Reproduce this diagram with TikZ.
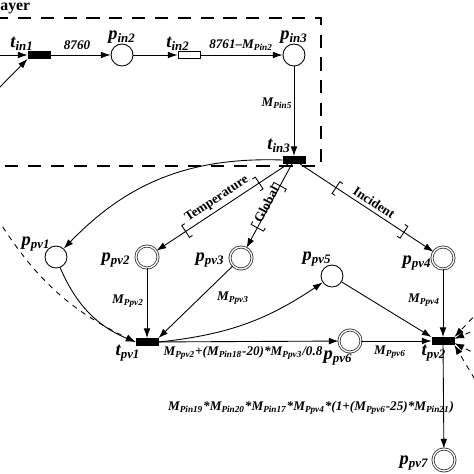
\documentclass[tikz,border=0pt]{standalone}
\usepackage{fontspec}
\setmainfont{Liberation Serif}
\usepackage{tikz}
\usetikzlibrary{arrows.meta,decorations.markings}
\newcommand{\sub}[2]{#1\textsubscript{#2}}
\tikzset{
  place/.style={circle, draw, line width=0.5pt, minimum size=0.44cm, inner sep=0pt},
  dplace/.style={place, double, double distance=0.7pt, draw=black!75},
  trans/.style={rectangle, draw, fill=black, line width=0.5pt, minimum width=0.44cm, minimum height=0.14cm, inner sep=0pt},
  wtrans/.style={trans, fill=white},
  arc/.style={line width=0.5pt, -{Latex[length=5.5pt,width=3.8pt]}},
  darc/.style={arc, dashed},
  lab/.style={font=\bfseries\itshape\fontsize{10.5}{12}\selectfont, inner sep=1pt},
  wlab/.style={font=\bfseries\itshape\fontsize{7.5}{9}\selectfont, inner sep=1pt},
  tlab/.style={font=\bfseries\fontsize{7.5}{9}\selectfont, inner sep=1pt},
  layerbox/.style={line width=1.1pt, dash pattern=on 7.5pt off 5.5pt},
  brk/.style 2 args={postaction={decorate, decoration={markings,
      mark=at position #1 with {\draw[-, line width=0.5pt] (2pt,-4pt)--(0,-4pt)--(0,4pt)--(2pt,4pt);},
      mark=at position #2 with {\draw[-, line width=0.5pt] (-2pt,-4pt)--(0,-4pt)--(0,4pt)--(-2pt,4pt);}}}},
}
\begin{document}
\begin{tikzpicture}[x=0.02cm, y=-0.02cm]
  \useasboundingbox (0,0) rectangle (474,474);

  % input layer box
  \draw[layerbox] (-5,18) -- (321,18) -- (321,166) -- (-5,166);
  \node[font=\bfseries\fontsize{9}{10}\selectfont, anchor=west, inner sep=0pt] (layer) at (0,8.5) {ayer};

  % input layer
  \coordinate (in1a) at (-5,55);
  \coordinate (in1b) at (-5,92);
  \node[trans] (tin1) at (39,55) {};
  \node[place] (pin2) at (122,55) {};
  \node[wtrans] (tin2) at (189,55) {};
  \node[place] (pin3) at (294,55) {};
  \node[trans] (tin3) at (294,160) {};

  % pv layer
  \node[place] (ppv1) at (56,257) {};
  \node[dplace] (ppv2) at (147,257) {};
  \node[dplace] (ppv3) at (241,258) {};
  \node[dplace] (ppv4) at (443,258) {};
  \node[place] (ppv5) at (332,276) {};
  \node[trans] (tpv1) at (147,342) {};
  \node[dplace] (ppv6) at (350,341) {};
  \node[trans] (tpv2) at (443,341) {};
  \node[dplace] (ppv7) at (444,460) {};
  \coordinate (dpv1) at (-3,218);
  \coordinate (ex1) at (480,310);
  \coordinate (ex2) at (480,328);
  \coordinate (ex3) at (480,356);
  \coordinate (ex4) at (480,388);

  % arcs
  \draw[arc] (in1a) -- (tin1);
  \draw[arc] (in1b) -- (tin1.south west);
  \draw[arc] (tin1) -- (pin2);
  \draw[arc] (pin2) -- (tin2);
  \draw[arc] (tin2) -- (pin3);
  \draw[arc] (pin3) -- (tin3);
  \draw[arc] (tin3.west) to[bend right=24] (ppv1);
  \draw[arc, brk={0.22}{0.78}] (tin3) -- node[tlab, sloped, above=1pt, pos=0.5] (temp) {Temperature} (ppv2);
  \draw[arc, brk={0.26}{0.76}] (tin3) -- node[tlab, sloped, above=-2pt, pos=0.5] (glob) {Global} (ppv3);
  \draw[arc, brk={0.27}{0.78}] (tin3) -- node[tlab, sloped, above=1pt, pos=0.52] (inc) {Incident} (ppv4);
  \draw[arc] (ppv1) to[bend right=22] (tpv1.west);
  \draw[darc] (dpv1) to[bend right=16] (tpv1.west);
  \draw[arc] (ppv2) -- (tpv1);
  \draw[arc] (ppv3) -- (tpv1.north east);
  \draw[arc] (tpv1.east) to[bend right=14] (ppv5);
  \draw[arc] (tpv1) -- (ppv6);
  \draw[arc] (ppv5) -- (tpv2.north west);
  \draw[arc] (ppv6) -- (tpv2);
  \draw[arc] (ppv4) -- (tpv2);
  \draw[darc] (ex1) -- (tpv2.north east);
  \draw[darc] (ex2) -- ([yshift=-1pt]tpv2.north east);
  \draw[darc] (ex3) -- ([yshift=1pt]tpv2.south east);
  \draw[darc] (ex4) -- (tpv2.south east);
  \draw[arc] (tpv2) -- (ppv7);

  % place and transition names
  \node[lab] at (22,44) {\sub{t}{in1}};
  \node[lab] at (122,37) {\sub{p}{in2}};
  \node[lab] at (178,44) {\sub{t}{in2}};
  \node[lab] at (294,37) {\sub{p}{in3}};
  \node[lab] at (279,146) {\sub{t}{in3}};
  \node[lab] at (36,244) {\sub{p}{pv1}};
  \node[lab] at (116,260) {\sub{p}{pv2}};
  \node[lab] at (210,260) {\sub{p}{pv3}};
  \node[lab] at (417,263) {\sub{p}{pv4}};
  \node[lab] at (317,259) {\sub{p}{pv5}};
  \node[lab] at (128,353) {\sub{t}{pv1}};
  \node[lab] at (338,358) {\sub{p}{pv6}};
  \node[lab] at (434,353) {\sub{t}{pv2}};
  \node[lab] at (414,463) {\sub{p}{pv7}};

  % arc weights
  \node[wlab] at (77,45) {8760};
  \node[wlab] at (241,45) {8761--\sub{M}{Pin2}};
  \node[wlab] at (277,103) {\sub{M}{Pin5}};
  \node[wlab] at (128,301) {\sub{M}{Ppv2}};
  \node[wlab] at (233,298) {\sub{M}{Ppv3}};
  \node[wlab] at (424,300) {\sub{M}{Ppv4}};
  \node[wlab] at (243,353) {\sub{M}{Ppv2}+(\sub{M}{Pin18}-20)*\sub{M}{Ppv3}/0.8};
  \node[wlab] at (390,352) {\sub{M}{Ppv6}};
  \node[wlab] at (311,408) {\sub{M}{Pin19}*\sub{M}{Pin20}*\sub{M}{Pin17}*\sub{M}{Ppv4}*(1+(\sub{M}{Ppv6}-25)*\sub{M}{Pin21})};
\end{tikzpicture}
\end{document}
